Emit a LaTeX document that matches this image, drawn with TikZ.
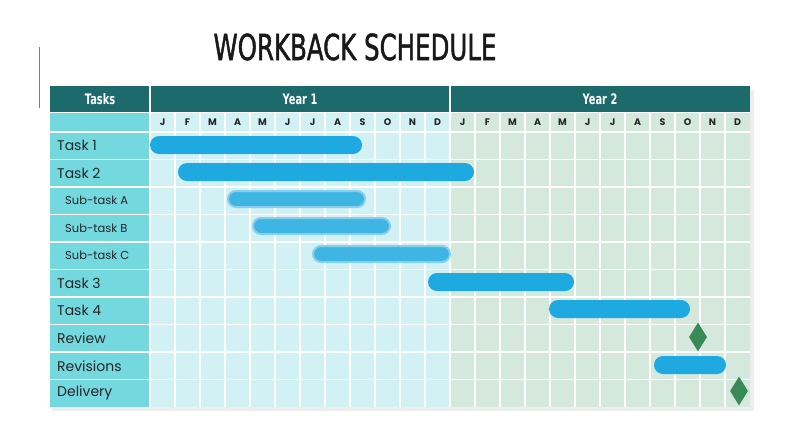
\documentclass[tikz,border=0pt]{standalone}
\usepackage{fontspec}
\setmainfont{Poppins}
\newfontfamily\condfont[FakeStretch=0.68]{DejaVu Sans}
\newfontfamily\titlefont[FakeStretch=0.68, FakeBold=1.2]{DejaVu Sans}
\usetikzlibrary{shapes.geometric}

\definecolor{headteal}{HTML}{1D6A6C}
\definecolor{taskcyan}{HTML}{74D8DF}
\definecolor{yearone}{HTML}{D2F1F4}
\definecolor{yeartwo}{HTML}{D4E9DC}
\definecolor{barblue}{HTML}{1EA9E1}
\definecolor{subblue}{HTML}{3FB5E4}
\definecolor{subedge}{HTML}{86D0EE}
\definecolor{mileg}{HTML}{3A8A57}
\definecolor{accentteal}{HTML}{2E9DB0}

\tikzset{
  taskbar/.style={fill=barblue, rounded corners=9pt, minimum height=18pt, inner sep=0pt},
  subbar/.style={fill=subblue, draw=subedge, line width=2pt, rounded corners=8pt, minimum height=16pt, inner sep=0pt},
  milestone/.style={diamond, fill=mileg, minimum width=18pt, minimum height=29pt, inner sep=0pt},
  tasklabel/.style={anchor=west, inner sep=0pt, font=\fontsize{14}{14}\selectfont, text=black!85},
  sublabel/.style={anchor=west, inner sep=0pt, font=\fontsize{11.5}{11.5}\selectfont, text=black!85},
  monthlabel/.style={inner sep=0pt, font=\bfseries\fontsize{9.5}{9.5}\selectfont, text=black!85},
  headlabel/.style={inner sep=0pt, text=white, font=\condfont\bfseries\fontsize{14.5}{14.5}\selectfont}
}

\begin{document}
\begin{tikzpicture}[x=1pt, y=-1pt]
    \useasboundingbox (0,0) rectangle (800,445);

    \draw[accentteal, line width=1.8pt] (39.5,47) -- (39.5,108);
    \node (title) at (355,47) {\titlefont\fontsize{36}{36}\selectfont\color{black!90}WORKBACK SCHEDULE};

    \fill[black!7] (52,90) rectangle (754,411);
    \fill[headteal] (50,86) rectangle (750,112);
    \fill[taskcyan] (50,112) rectangle (150,407);
    \fill[yearone] (150,112) rectangle (450,407);
    \fill[yeartwo] (450,112) rectangle (750,407);

    \foreach \k in {1,...,23}
      \draw[white, line width=1.5pt] (150+25*\k,112) -- (150+25*\k,407);
    \draw[white, line width=1.5pt] (150,86) -- (150,407);
    \draw[white, line width=1.5pt] (450,86) -- (450,112);
    \foreach \k in {0,...,9}
      \draw[white, line width=1.5pt] (50,132+27.5*\k) -- (750,132+27.5*\k);
    \draw[white, line width=1pt] (50,112) -- (750,112);

    \node[headlabel] (htasks) at (100,99) {Tasks};
    \node[headlabel] (hyear1) at (300,99) {Year 1};
    \node[headlabel] (hyear2) at (600,99) {Year 2};

    \foreach \m [count=\i from 0] in {J,F,M,A,M,J,J,A,S,O,N,D,J,F,M,A,M,J,J,A,S,O,N,D}
      \node[monthlabel] (m\i) at (162.5+25*\i,122.5) {\m};

    \node[tasklabel] (l1) at (57,145.75) {Task 1};
    \node[tasklabel] (l2) at (57,173.25) {Task 2};
    \node[sublabel] (l3) at (65,200.75) {Sub-task A};
    \node[sublabel] (l4) at (65,228.25) {Sub-task B};
    \node[sublabel] (l5) at (65,255.75) {Sub-task C};
    \node[tasklabel] (l6) at (57,283.25) {Task 3};
    \node[tasklabel] (l7) at (57,310.75) {Task 4};
    \node[tasklabel] (l8) at (57,338.25) {Review};
    \node[tasklabel] (l9) at (57,365.75) {Revisions};
    \node[tasklabel] (l10) at (57,393.25) {Delivery};

    \node[taskbar, minimum width=212pt] (b1) at (256,145) {};
    \node[taskbar, minimum width=296pt] (b2) at (326,172) {};
    \node[subbar, minimum width=137pt] (b3) at (296.5,199) {};
    \node[subbar, minimum width=137pt] (b4) at (321.5,226) {};
    \node[subbar, minimum width=137pt] (b5) at (381.5,254) {};
    \node[taskbar, minimum width=146pt] (b6) at (501,282) {};
    \node[taskbar, minimum width=141pt] (b7) at (619.5,309) {};
    \node[milestone] (b8) at (698,337) {};
    \node[taskbar, minimum width=72pt] (b9) at (690,365) {};
    \node[milestone] (b10) at (739,391) {};
\end{tikzpicture}
\end{document}
